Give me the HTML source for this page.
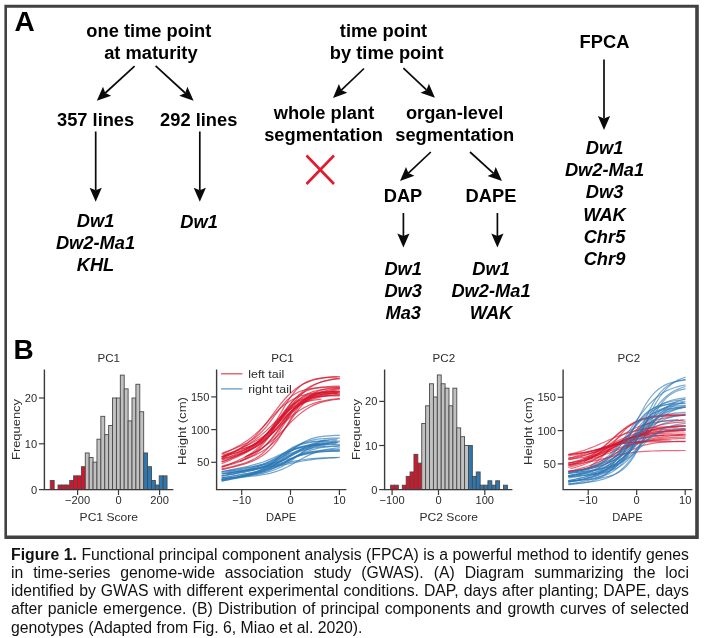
<!DOCTYPE html>
<html><head><meta charset="utf-8"><title>Figure 1</title>
<style>
html,body{margin:0;padding:0;background:#fff;}
body{width:705px;height:638px;overflow:hidden;position:relative;font-family:"Liberation Sans",sans-serif;}
svg{position:absolute;left:0;top:0;will-change:transform;}
svg text{font-family:"Liberation Sans",sans-serif;}
.b{font-weight:bold;font-size:18.3px;fill:#000;text-anchor:middle;}
.bi{font-weight:bold;font-style:italic;font-size:18.3px;fill:#000;text-anchor:middle;}
.pl{font-weight:bold;font-size:28px;fill:#000;}
.t{font-size:11.6px;fill:#2b2b2b;text-anchor:middle;}
.tk{font-size:11.1px;fill:#2b2b2b;}
#cap{will-change:transform;position:absolute;left:10.6px;top:545.5px;width:678px;font-size:15.78px;line-height:18.15px;color:#111;}
#cap div{text-align:justify;text-align-last:justify;white-space:nowrap;height:18.15px;}
#cap div.l{text-align:left;text-align-last:left;}
#cap b{font-weight:bold;}
</style></head><body>

<svg width="705" height="638" viewBox="0 0 705 638">
<path d="M4.4 4.7 H698.8 V539 H4.4 Z M7 7.8 V535.6 H695.2 V7.8 Z" fill="#414141" fill-rule="evenodd"/>
<text x="14.6" y="30.8" class="pl" >A</text>
<text x="148.8" y="37" class="b" >one time point</text>
<text x="150.9" y="59" class="b" >at maturity</text>
<line x1="134.6" y1="66.2" x2="105.3" y2="93.0" stroke="#0a0a0a" stroke-width="1.7"/><polygon points="96.8,100.8 103.0,86.8 105.3,93.0 111.2,95.8" fill="#0a0a0a"/>
<line x1="155.6" y1="65.8" x2="185.2" y2="93.0" stroke="#0a0a0a" stroke-width="1.7"/><polygon points="193.6,100.8 179.2,95.8 185.2,93.0 187.4,86.8" fill="#0a0a0a"/>
<text x="95.6" y="125.5" class="b" >357 lines</text>
<text x="198.7" y="125.5" class="b" >292 lines</text>
<line x1="95.7" y1="131.5" x2="95.7" y2="190.3" stroke="#0a0a0a" stroke-width="1.7"/><polygon points="95.7,201.8 89.6,187.8 95.7,190.3 101.8,187.8" fill="#0a0a0a"/>
<line x1="199.8" y1="131.5" x2="199.8" y2="190.3" stroke="#0a0a0a" stroke-width="1.7"/><polygon points="199.8,201.8 193.7,187.8 199.8,190.3 205.9,187.8" fill="#0a0a0a"/>
<text x="95.5" y="227.1" class="bi" >Dw1</text>
<text x="95.5" y="249.2" class="bi" >Dw2-Ma1</text>
<text x="95.5" y="271.3" class="bi" >KHL</text>
<text x="199" y="227.6" class="bi" >Dw1</text>
<text x="383.5" y="37" class="b" >time point</text>
<text x="386.7" y="59" class="b" >by time point</text>
<line x1="364.0" y1="68.5" x2="341.3" y2="90.1" stroke="#0a0a0a" stroke-width="1.7"/><polygon points="333.0,98.0 338.9,83.9 341.3,90.1 347.3,92.8" fill="#0a0a0a"/>
<line x1="403.4" y1="68.2" x2="426.5" y2="89.9" stroke="#0a0a0a" stroke-width="1.7"/><polygon points="434.9,97.8 420.5,92.7 426.5,89.9 428.9,83.8" fill="#0a0a0a"/>
<text x="324" y="119" class="b" >whole plant</text>
<text x="323.6" y="141.2" class="b" >segmentation</text>
<text x="454.7" y="119" class="b" >organ-level</text>
<text x="454.7" y="141.2" class="b" >segmentation</text>
<path d="M306.5 155.5 L334 184 M334 155.5 L306.5 184" stroke="#e21a2c" stroke-width="2.6" fill="none"/>
<line x1="430.8" y1="152.0" x2="408.4" y2="173.1" stroke="#0a0a0a" stroke-width="1.7"/><polygon points="400.0,181.0 406.0,167.0 408.4,173.1 414.4,175.8" fill="#0a0a0a"/>
<line x1="470.0" y1="152.0" x2="493.5" y2="173.3" stroke="#0a0a0a" stroke-width="1.7"/><polygon points="502.0,181.0 487.5,176.1 493.5,173.3 495.7,167.1" fill="#0a0a0a"/>
<text x="403" y="201.5" class="b" >DAP</text>
<text x="491" y="201.5" class="b" >DAPE</text>
<line x1="403.4" y1="213.0" x2="403.4" y2="236.0" stroke="#0a0a0a" stroke-width="1.7"/><polygon points="403.4,247.5 397.3,233.5 403.4,236.0 409.5,233.5" fill="#0a0a0a"/>
<line x1="497.4" y1="213.0" x2="497.4" y2="236.0" stroke="#0a0a0a" stroke-width="1.7"/><polygon points="497.4,247.5 491.3,233.5 497.4,236.0 503.5,233.5" fill="#0a0a0a"/>
<text x="403.2" y="274.7" class="bi" >Dw1</text>
<text x="403.2" y="296.9" class="bi" >Dw3</text>
<text x="403.2" y="319.09999999999997" class="bi" >Ma3</text>
<text x="491" y="274.7" class="bi" >Dw1</text>
<text x="491" y="296.9" class="bi" >Dw2-Ma1</text>
<text x="491" y="319.09999999999997" class="bi" >WAK</text>
<text x="604.5" y="47.7" class="b" >FPCA</text>
<line x1="604.0" y1="59.5" x2="604.0" y2="118.5" stroke="#0a0a0a" stroke-width="1.7"/><polygon points="604.0,130.0 597.9,116.0 604.0,118.5 610.1,116.0" fill="#0a0a0a"/>
<text x="604.5" y="154.1" class="bi" >Dw1</text>
<text x="604.5" y="176.25" class="bi" >Dw2-Ma1</text>
<text x="604.5" y="198.39999999999998" class="bi" >Dw3</text>
<text x="604.5" y="220.54999999999998" class="bi" >WAK</text>
<text x="604.5" y="242.7" class="bi" >Chr5</text>
<text x="604.5" y="264.85" class="bi" >Chr9</text>
<text x="13.5" y="359.2" class="pl" >B</text>
<rect x="50.25" y="480.44" width="3.89" height="9.16" fill="#d6142c" stroke="#4a4a4a" stroke-width="0.9"/><rect x="58.04" y="485.02" width="3.89" height="4.58" fill="#d6142c" stroke="#4a4a4a" stroke-width="0.9"/><rect x="61.93" y="485.02" width="3.89" height="4.58" fill="#d6142c" stroke="#4a4a4a" stroke-width="0.9"/><rect x="65.82" y="485.02" width="3.89" height="4.58" fill="#d6142c" stroke="#4a4a4a" stroke-width="0.9"/><rect x="69.72" y="480.44" width="3.89" height="9.16" fill="#d6142c" stroke="#4a4a4a" stroke-width="0.9"/><rect x="73.61" y="475.86" width="3.89" height="13.74" fill="#d6142c" stroke="#4a4a4a" stroke-width="0.9"/><rect x="77.50" y="475.86" width="3.89" height="13.74" fill="#d6142c" stroke="#4a4a4a" stroke-width="0.9"/><rect x="81.39" y="466.70" width="3.89" height="22.90" fill="#d6142c" stroke="#4a4a4a" stroke-width="0.9"/><rect x="85.29" y="452.96" width="3.89" height="36.64" fill="#c1c1c1" stroke="#4a4a4a" stroke-width="0.9"/><rect x="89.18" y="457.54" width="3.89" height="32.06" fill="#c1c1c1" stroke="#4a4a4a" stroke-width="0.9"/><rect x="93.07" y="462.12" width="3.89" height="27.48" fill="#c1c1c1" stroke="#4a4a4a" stroke-width="0.9"/><rect x="96.97" y="439.22" width="3.89" height="50.38" fill="#c1c1c1" stroke="#4a4a4a" stroke-width="0.9"/><rect x="100.86" y="416.32" width="3.89" height="73.28" fill="#c1c1c1" stroke="#4a4a4a" stroke-width="0.9"/><rect x="104.75" y="434.64" width="3.89" height="54.96" fill="#c1c1c1" stroke="#4a4a4a" stroke-width="0.9"/><rect x="108.64" y="425.48" width="3.89" height="64.12" fill="#c1c1c1" stroke="#4a4a4a" stroke-width="0.9"/><rect x="112.54" y="398.00" width="3.89" height="91.60" fill="#c1c1c1" stroke="#4a4a4a" stroke-width="0.9"/><rect x="116.43" y="398.00" width="3.89" height="91.60" fill="#c1c1c1" stroke="#4a4a4a" stroke-width="0.9"/><rect x="120.32" y="375.10" width="3.89" height="114.50" fill="#c1c1c1" stroke="#4a4a4a" stroke-width="0.9"/><rect x="124.22" y="388.84" width="3.89" height="100.76" fill="#c1c1c1" stroke="#4a4a4a" stroke-width="0.9"/><rect x="128.11" y="420.90" width="3.89" height="68.70" fill="#c1c1c1" stroke="#4a4a4a" stroke-width="0.9"/><rect x="132.00" y="398.00" width="3.89" height="91.60" fill="#c1c1c1" stroke="#4a4a4a" stroke-width="0.9"/><rect x="135.90" y="384.26" width="3.89" height="105.34" fill="#c1c1c1" stroke="#4a4a4a" stroke-width="0.9"/><rect x="139.79" y="411.74" width="3.89" height="77.86" fill="#c1c1c1" stroke="#4a4a4a" stroke-width="0.9"/><rect x="143.68" y="452.96" width="3.89" height="36.64" fill="#2b78b4" stroke="#4a4a4a" stroke-width="0.9"/><rect x="147.57" y="466.70" width="3.89" height="22.90" fill="#2b78b4" stroke="#4a4a4a" stroke-width="0.9"/><rect x="151.47" y="480.44" width="3.89" height="9.16" fill="#2b78b4" stroke="#4a4a4a" stroke-width="0.9"/><rect x="155.36" y="485.02" width="3.89" height="4.58" fill="#2b78b4" stroke="#4a4a4a" stroke-width="0.9"/><rect x="159.25" y="475.86" width="3.89" height="13.74" fill="#2b78b4" stroke="#4a4a4a" stroke-width="0.9"/><rect x="163.15" y="475.86" width="3.89" height="13.74" fill="#2b78b4" stroke="#4a4a4a" stroke-width="0.9"/><path d="M44.4 369.6 V489.6 H173.4" stroke="#3a3a3a" stroke-width="1.4" fill="none"/><line x1="39.0" x2="44.4" y1="489.6" y2="489.6" stroke="#3a3a3a" stroke-width="1.2"/><text x="37.199999999999996" y="493.6" class="tk" text-anchor="end">0</text><line x1="39.0" x2="44.4" y1="443.8" y2="443.8" stroke="#3a3a3a" stroke-width="1.2"/><text x="37.199999999999996" y="447.8" class="tk" text-anchor="end">10</text><line x1="39.0" x2="44.4" y1="398.0" y2="398.0" stroke="#3a3a3a" stroke-width="1.2"/><text x="37.199999999999996" y="402.0" class="tk" text-anchor="end">20</text><line x1="77.6" x2="77.6" y1="489.6" y2="495.0" stroke="#3a3a3a" stroke-width="1.2"/><text x="77.6" y="504.40000000000003" class="tk" text-anchor="middle">−200</text><line x1="118.5" x2="118.5" y1="489.6" y2="495.0" stroke="#3a3a3a" stroke-width="1.2"/><text x="118.5" y="504.40000000000003" class="tk" text-anchor="middle">0</text><line x1="159.6" x2="159.6" y1="489.6" y2="495.0" stroke="#3a3a3a" stroke-width="1.2"/><text x="159.6" y="504.40000000000003" class="tk" text-anchor="middle">200</text><text x="108.8" y="361.9" class="t" >PC1</text><text x="108.8" y="521.4" class="t" textLength="58.4" lengthAdjust="spacingAndGlyphs">PC1 Score</text><text transform="translate(20.3,429.5) rotate(-90)" class="t" textLength="61" lengthAdjust="spacingAndGlyphs">Frequency</text>
<rect x="390.60" y="485.19" width="3.89" height="4.41" fill="#d6142c" stroke="#4a4a4a" stroke-width="0.9"/><rect x="394.49" y="485.19" width="3.89" height="4.41" fill="#d6142c" stroke="#4a4a4a" stroke-width="0.9"/><rect x="402.28" y="485.19" width="3.89" height="4.41" fill="#d6142c" stroke="#4a4a4a" stroke-width="0.9"/><rect x="406.17" y="476.37" width="3.89" height="13.23" fill="#d6142c" stroke="#4a4a4a" stroke-width="0.9"/><rect x="410.06" y="471.96" width="3.89" height="17.64" fill="#d6142c" stroke="#4a4a4a" stroke-width="0.9"/><rect x="413.96" y="454.32" width="3.89" height="35.28" fill="#d6142c" stroke="#4a4a4a" stroke-width="0.9"/><rect x="417.85" y="463.14" width="3.89" height="26.46" fill="#d6142c" stroke="#4a4a4a" stroke-width="0.9"/><rect x="421.74" y="423.45" width="3.89" height="66.15" fill="#c1c1c1" stroke="#4a4a4a" stroke-width="0.9"/><rect x="425.64" y="405.81" width="3.89" height="83.79" fill="#c1c1c1" stroke="#4a4a4a" stroke-width="0.9"/><rect x="429.53" y="383.76" width="3.89" height="105.84" fill="#c1c1c1" stroke="#4a4a4a" stroke-width="0.9"/><rect x="433.42" y="396.99" width="3.89" height="92.61" fill="#c1c1c1" stroke="#4a4a4a" stroke-width="0.9"/><rect x="437.32" y="374.94" width="3.89" height="114.66" fill="#c1c1c1" stroke="#4a4a4a" stroke-width="0.9"/><rect x="441.21" y="383.76" width="3.89" height="105.84" fill="#c1c1c1" stroke="#4a4a4a" stroke-width="0.9"/><rect x="445.10" y="388.17" width="3.89" height="101.43" fill="#c1c1c1" stroke="#4a4a4a" stroke-width="0.9"/><rect x="449.00" y="405.81" width="3.89" height="83.79" fill="#c1c1c1" stroke="#4a4a4a" stroke-width="0.9"/><rect x="452.89" y="388.17" width="3.89" height="101.43" fill="#c1c1c1" stroke="#4a4a4a" stroke-width="0.9"/><rect x="456.78" y="427.86" width="3.89" height="61.74" fill="#c1c1c1" stroke="#4a4a4a" stroke-width="0.9"/><rect x="460.67" y="436.68" width="3.89" height="52.92" fill="#c1c1c1" stroke="#4a4a4a" stroke-width="0.9"/><rect x="464.57" y="445.50" width="3.89" height="44.10" fill="#c1c1c1" stroke="#4a4a4a" stroke-width="0.9"/><rect x="468.46" y="445.50" width="3.89" height="44.10" fill="#2b78b4" stroke="#4a4a4a" stroke-width="0.9"/><rect x="472.35" y="476.37" width="3.89" height="13.23" fill="#2b78b4" stroke="#4a4a4a" stroke-width="0.9"/><rect x="476.25" y="471.96" width="3.89" height="17.64" fill="#2b78b4" stroke="#4a4a4a" stroke-width="0.9"/><rect x="480.14" y="485.19" width="3.89" height="4.41" fill="#2b78b4" stroke="#4a4a4a" stroke-width="0.9"/><rect x="484.03" y="485.19" width="3.89" height="4.41" fill="#2b78b4" stroke="#4a4a4a" stroke-width="0.9"/><rect x="487.93" y="480.78" width="3.89" height="8.82" fill="#2b78b4" stroke="#4a4a4a" stroke-width="0.9"/><rect x="491.82" y="485.19" width="3.89" height="4.41" fill="#2b78b4" stroke="#4a4a4a" stroke-width="0.9"/><rect x="495.71" y="480.78" width="3.89" height="8.82" fill="#2b78b4" stroke="#4a4a4a" stroke-width="0.9"/><rect x="503.50" y="485.19" width="3.89" height="4.41" fill="#2b78b4" stroke="#4a4a4a" stroke-width="0.9"/><path d="M384.6 369.6 V489.6 H512.4" stroke="#3a3a3a" stroke-width="1.4" fill="none"/><line x1="379.20000000000005" x2="384.6" y1="489.6" y2="489.6" stroke="#3a3a3a" stroke-width="1.2"/><text x="377.40000000000003" y="493.6" class="tk" text-anchor="end">0</text><line x1="379.20000000000005" x2="384.6" y1="445.5" y2="445.5" stroke="#3a3a3a" stroke-width="1.2"/><text x="377.40000000000003" y="449.5" class="tk" text-anchor="end">10</text><line x1="379.20000000000005" x2="384.6" y1="401.4" y2="401.4" stroke="#3a3a3a" stroke-width="1.2"/><text x="377.40000000000003" y="405.4" class="tk" text-anchor="end">20</text><line x1="392.1" x2="392.1" y1="489.6" y2="495.0" stroke="#3a3a3a" stroke-width="1.2"/><text x="392.1" y="504.40000000000003" class="tk" text-anchor="middle">−100</text><line x1="438.5" x2="438.5" y1="489.6" y2="495.0" stroke="#3a3a3a" stroke-width="1.2"/><text x="438.5" y="504.40000000000003" class="tk" text-anchor="middle">0</text><line x1="484.8" x2="484.8" y1="489.6" y2="495.0" stroke="#3a3a3a" stroke-width="1.2"/><text x="484.8" y="504.40000000000003" class="tk" text-anchor="middle">100</text><text x="443.9" y="361.9" class="t" >PC2</text><text x="448.7" y="521.4" class="t" textLength="58.4" lengthAdjust="spacingAndGlyphs">PC2 Score</text><text transform="translate(360.4,429.5) rotate(-90)" class="t" textLength="61" lengthAdjust="spacingAndGlyphs">Frequency</text>
<g fill="none" stroke-width="1.2" stroke-linecap="round" stroke-linejoin="round"><polyline points="238.0,471.9 241.7,471.1 245.4,470.4 249.0,469.6 252.7,468.8 256.4,468.0 260.0,467.2 263.7,466.3 267.3,465.3 271.0,464.3 274.7,463.2 278.3,461.9 282.0,460.4 285.7,458.8 289.3,456.8 293.0,454.7 296.7,452.4 300.3,450.1 304.0,447.9 307.6,445.9 311.3,444.2 315.0,442.8 318.6,441.7 322.3,440.8 326.0,440.1 329.6,439.7 333.3,439.3 337.0,439.1" stroke="#2b78b4" stroke-opacity="0.66"/><polyline points="229.5,471.2 233.2,470.6 236.8,470.0 240.5,469.4 244.2,468.7 247.8,467.9 251.5,467.1 255.2,466.2 258.8,465.2 262.5,464.1 266.2,462.8 269.8,461.3 273.5,459.6 277.1,457.7 280.8,455.8 284.5,453.9 288.1,452.1 291.8,450.4 295.5,449.0 299.1,447.8 302.8,446.8 306.5,446.0 310.1,445.4 313.8,444.9 317.5,444.6 321.1,444.3 324.8,444.1 328.4,444.0 332.1,443.9 335.8,443.8" stroke="#2b78b4" stroke-opacity="0.66"/><polyline points="251.9,469.9 255.6,469.0 259.2,467.8 262.9,466.5 266.6,464.8 270.2,462.9 273.9,460.6 277.6,458.1 281.2,455.6 284.9,453.0 288.5,450.6 292.2,448.5 295.9,446.7 299.5,445.2 303.2,444.0 306.9,443.1 310.5,442.5 314.2,441.9 317.9,441.6 321.5,441.3 325.2,441.1 328.8,441.0 332.5,440.9 336.2,440.8" stroke="#2b78b4" stroke-opacity="0.66"/><polyline points="222.1,471.6 225.8,471.0 229.4,470.4 233.1,469.8 236.8,469.2 240.4,468.6 244.1,468.0 247.8,467.4 251.4,466.8 255.1,466.1 258.7,465.5 262.4,464.8 266.1,464.2 269.7,463.5 273.4,462.7 277.1,461.9 280.7,461.1 284.4,460.1 288.1,459.1 291.7,458.1 295.4,457.0 299.0,456.0 302.7,455.0 306.4,454.2 310.0,453.4 313.7,452.8 317.4,452.3 321.0,452.0 324.7,451.6 328.4,451.4 332.0,451.2 335.7,451.1 339.4,451.0" stroke="#2b78b4" stroke-opacity="0.66"/><polyline points="222.1,472.1 225.8,471.8 229.4,471.4 233.1,471.0 236.8,470.6 240.4,470.1 244.1,469.5 247.8,468.8 251.4,468.1 255.1,467.2 258.7,466.2 262.4,465.1 266.1,463.8 269.7,462.4 273.4,460.8 277.1,459.2 280.7,457.6 284.4,455.9 288.1,454.4 291.7,452.9 295.4,451.6 299.0,450.4 302.7,449.4 306.4,448.5 310.0,447.7 313.7,447.1 317.4,446.6 321.0,446.2 324.7,445.8" stroke="#2b78b4" stroke-opacity="0.66"/><polyline points="222.1,477.8 225.8,477.3 229.4,476.7 233.1,476.2 236.8,475.6 240.4,475.0 244.1,474.3 247.8,473.6 251.4,472.8 255.1,471.9 258.7,470.8 262.4,469.7 266.1,468.3 269.7,466.8 273.4,465.1 277.1,463.1 280.7,461.0 284.4,458.7 288.1,456.4 291.7,454.1 295.4,452.0 299.0,450.0 302.7,448.3 306.4,446.7 310.0,445.4 313.7,444.4 317.4,443.5 321.0,442.8 324.7,442.2 328.4,441.8 332.0,441.5 335.7,441.2 339.4,441.0" stroke="#2b78b4" stroke-opacity="0.66"/><polyline points="223.7,473.7 227.4,473.1 231.0,472.6 234.7,472.0 238.4,471.5 242.0,470.9 245.7,470.4 249.4,469.8 253.0,469.2 256.7,468.6 260.3,468.0 264.0,467.4 267.7,466.8 271.3,466.1 275.0,465.4 278.7,464.6 282.3,463.8 286.0,463.0 289.7,462.2 293.3,461.4 297.0,460.7 300.6,460.0 304.3,459.5 308.0,459.0 311.6,458.7 315.3,458.4 319.0,458.1 322.6,457.9 326.3,457.8 330.0,457.7 333.6,457.6 337.3,457.5" stroke="#2b78b4" stroke-opacity="0.66"/><polyline points="222.1,479.3 225.8,478.8 229.4,478.4 233.1,478.0 236.8,477.5 240.4,477.0 244.1,476.5 247.8,476.0 251.4,475.4 255.1,474.8 258.7,474.1 262.4,473.3 266.1,472.4 269.7,471.4 273.4,470.2 277.1,468.7 280.7,467.1 284.4,465.1 288.1,462.9 291.7,460.4 295.4,457.8 299.0,455.0 302.7,452.2 306.4,449.6 310.0,447.1 313.7,444.9 317.4,443.0 321.0,441.4 324.7,440.0" stroke="#2b78b4" stroke-opacity="0.66"/><polyline points="222.1,473.4 225.8,473.0 229.4,472.6 233.1,472.2 236.8,471.7 240.4,471.3 244.1,470.9 247.8,470.4 251.4,470.0 255.1,469.5 258.7,469.0 262.4,468.5 266.1,468.0 269.7,467.4 273.4,466.8 277.1,466.2 280.7,465.5 284.4,464.7 288.1,464.0 291.7,463.2 295.4,462.4 299.0,461.7 302.7,461.0 306.4,460.4 310.0,459.8 313.7,459.3 317.4,458.9 321.0,458.6 324.7,458.3 328.4,458.0 332.0,457.8 335.7,457.6 339.4,457.4" stroke="#2b78b4" stroke-opacity="0.66"/><polyline points="222.1,475.4 225.8,475.0 229.4,474.6 233.1,474.1 236.8,473.5 240.4,472.9 244.1,472.3 247.8,471.5 251.4,470.6 255.1,469.7 258.7,468.5 262.4,467.3 266.1,465.9 269.7,464.4 273.4,462.7 277.1,461.0 280.7,459.3 284.4,457.6 288.1,455.9 291.7,454.4 295.4,453.0 299.0,451.7 302.7,450.6 306.4,449.6 310.0,448.8 313.7,448.0 317.4,447.5 321.0,447.0 324.7,446.6 328.4,446.3 332.0,446.0 335.7,445.8 339.4,445.6" stroke="#2b78b4" stroke-opacity="0.66"/><polyline points="222.1,471.5 225.8,470.8 229.4,470.1 233.1,469.4 236.8,468.7 240.4,467.9 244.1,467.1 247.8,466.3 251.4,465.4 255.1,464.4 258.7,463.4 262.4,462.2 266.1,460.9 269.7,459.4 273.4,457.8 277.1,456.1 280.7,454.3 284.4,452.6 288.1,451.0 291.7,449.6 295.4,448.4 299.0,447.4 302.7,446.6 306.4,446.0 310.0,445.5 313.7,445.2 317.4,444.9 321.0,444.7" stroke="#2b78b4" stroke-opacity="0.66"/><polyline points="222.1,480.9 225.8,480.1 229.4,479.3 233.1,478.4 236.8,477.6 240.4,476.7 244.1,475.7 247.8,474.7 251.4,473.5 255.1,472.2 258.7,470.7 262.4,468.9 266.1,466.8 269.7,464.4 273.4,461.7 277.1,458.8 280.7,455.8 284.4,452.9 288.1,450.2 291.7,447.9 295.4,446.0 299.0,444.5 302.7,443.4 306.4,442.5 310.0,441.8 313.7,441.4 317.4,441.0 321.0,440.8 324.7,440.6 328.4,440.5" stroke="#2b78b4" stroke-opacity="0.66"/><polyline points="222.1,479.8 225.8,479.1 229.4,478.4 233.1,477.7 236.8,477.0 240.4,476.2 244.1,475.5 247.8,474.8 251.4,474.0 255.1,473.2 258.7,472.3 262.4,471.4 266.1,470.3 269.7,469.1 273.4,467.7 277.1,466.1 280.7,464.3 284.4,462.3 288.1,460.2 291.7,458.2 295.4,456.3 299.0,454.8 302.7,453.6 306.4,452.7 310.0,452.1 313.7,451.6 317.4,451.3 321.0,451.0 324.7,450.9 328.4,450.8 332.0,450.7 335.7,450.7 339.4,450.6" stroke="#2b78b4" stroke-opacity="0.66"/><polyline points="222.1,476.4 225.8,475.6 229.4,474.7 233.1,473.9 236.8,473.0 240.4,472.0 244.1,471.0 247.8,469.9 251.4,468.8 255.1,467.5 258.7,466.2 262.4,464.6 266.1,463.0 269.7,461.2 273.4,459.2 277.1,457.3 280.7,455.3 284.4,453.5 288.1,451.9 291.7,450.5 295.4,449.2 299.0,448.2 302.7,447.3 306.4,446.6 310.0,446.1 313.7,445.6 317.4,445.3 321.0,445.0 324.7,444.8 328.4,444.7 332.0,444.6 335.7,444.5 339.4,444.4" stroke="#2b78b4" stroke-opacity="0.66"/><polyline points="222.1,480.3 225.8,479.7 229.4,479.0 233.1,478.3 236.8,477.6 240.4,476.9 244.1,476.1 247.8,475.4 251.4,474.6 255.1,473.7 258.7,472.8 262.4,471.9 266.1,470.8 269.7,469.6 273.4,468.3 277.1,466.8 280.7,465.2 284.4,463.3 288.1,461.2 291.7,459.0 295.4,456.7 299.0,454.5 302.7,452.3 306.4,450.3 310.0,448.6 313.7,447.0 317.4,445.7 321.0,444.7 324.7,443.8 328.4,443.1 332.0,442.5 335.7,442.1 339.4,441.8" stroke="#2b78b4" stroke-opacity="0.66"/><polyline points="222.1,477.7 225.8,477.1 229.4,476.5 233.1,475.8 236.8,475.2 240.4,474.6 244.1,473.9 247.8,473.3 251.4,472.6 255.1,471.8 258.7,471.0 262.4,470.2 266.1,469.2 269.7,468.1 273.4,466.9 277.1,465.4 280.7,463.8 284.4,462.1 288.1,460.3 291.7,458.5 295.4,456.9 299.0,455.6 302.7,454.4 306.4,453.5 310.0,452.8 313.7,452.3 317.4,451.9 321.0,451.6 324.7,451.4 328.4,451.3 332.0,451.2 335.7,451.1 339.4,451.0" stroke="#2b78b4" stroke-opacity="0.66"/><polyline points="222.1,481.1 225.8,480.4 229.4,479.7 233.1,479.0 236.8,478.3 240.4,477.6 244.1,476.8 247.8,476.0 251.4,475.2 255.1,474.3 258.7,473.4 262.4,472.4 266.1,471.3 269.7,470.0 273.4,468.6 277.1,467.0 280.7,465.2 284.4,463.2 288.1,461.2 291.7,459.0 295.4,456.9 299.0,455.0 302.7,453.2 306.4,451.7 310.0,450.4 313.7,449.3 317.4,448.4 321.0,447.7 324.7,447.2 328.4,446.8 332.0,446.5 335.7,446.3 339.4,446.1" stroke="#2b78b4" stroke-opacity="0.66"/><polyline points="222.1,474.0 225.8,473.4 229.4,472.8 233.1,472.2 236.8,471.6 240.4,471.0 244.1,470.4 247.8,469.8 251.4,469.1 255.1,468.5 258.7,467.8 262.4,467.2 266.1,466.4 269.7,465.7 273.4,464.8 277.1,463.9 280.7,462.9 284.4,461.7 288.1,460.3 291.7,458.9 295.4,457.3 299.0,455.8 302.7,454.4 306.4,453.2 310.0,452.2 313.7,451.4 317.4,450.8 321.0,450.3 324.7,450.0 328.4,449.8 332.0,449.6 335.7,449.5 339.4,449.4" stroke="#2b78b4" stroke-opacity="0.66"/><polyline points="222.1,479.6 225.8,478.9 229.4,478.3 233.1,477.6 236.8,477.0 240.4,476.3 244.1,475.5 247.8,474.7 251.4,473.9 255.1,473.0 258.7,471.9 262.4,470.7 266.1,469.2 269.7,467.5 273.4,465.4 277.1,463.0 280.7,460.2 284.4,457.1 288.1,453.9 291.7,450.6 295.4,447.6 299.0,444.9 302.7,442.6 306.4,440.7 310.0,439.2 313.7,438.1 317.4,437.2 321.0,436.6 324.7,436.1 328.4,435.8 332.0,435.6 335.7,435.4 339.4,435.3" stroke="#2b78b4" stroke-opacity="0.66"/><polyline points="227.6,473.8 231.2,473.2 234.9,472.5 238.6,471.9 242.2,471.2 245.9,470.6 249.6,469.9 253.2,469.2 256.9,468.4 260.6,467.6 264.2,466.8 267.9,465.8 271.5,464.7 275.2,463.5 278.9,462.1 282.5,460.6 286.2,458.8 289.9,456.8 293.5,454.8 297.2,452.7 300.9,450.8 304.5,449.0 308.2,447.5 311.8,446.2 315.5,445.2 319.2,444.4 322.8,443.8 326.5,443.4 330.2,443.1 333.8,442.8 337.5,442.6" stroke="#2b78b4" stroke-opacity="0.66"/><polyline points="226.7,478.4 230.3,477.9 234.0,477.4 237.7,476.8 241.3,476.2 245.0,475.5 248.7,474.6 252.3,473.6 256.0,472.3 259.6,470.8 263.3,469.0 267.0,467.0 270.6,464.7 274.3,462.1 278.0,459.5 281.6,456.9 285.3,454.4 289.0,452.1 292.6,450.1 296.3,448.4 300.0,447.1 303.6,446.0 307.3,445.1 310.9,444.4 314.6,443.9 318.3,443.5 321.9,443.3 325.6,443.0 329.3,442.9 332.9,442.8 336.6,442.7" stroke="#2b78b4" stroke-opacity="0.66"/><polyline points="222.1,479.3 225.8,478.7 229.4,478.2 233.1,477.6 236.8,477.0 240.4,476.3 244.1,475.7 247.8,474.9 251.4,474.1 255.1,473.3 258.7,472.3 262.4,471.1 266.1,469.7 269.7,468.1 273.4,466.3 277.1,464.2 280.7,461.8 284.4,459.3 288.1,456.8 291.7,454.4 295.4,452.3 299.0,450.4 302.7,448.8 306.4,447.5 310.0,446.5 313.7,445.8 317.4,445.2 321.0,444.8 324.7,444.5 328.4,444.2" stroke="#2b78b4" stroke-opacity="0.66"/><polyline points="222.1,478.5 225.8,478.2 229.4,478.0 233.1,477.7 236.8,477.5 240.4,477.2 244.1,476.9 247.8,476.6 251.4,476.2 255.1,475.8 258.7,475.3 262.4,474.7 266.1,474.1 269.7,473.3 273.4,472.3 277.1,471.2 280.7,469.9 284.4,468.3 288.1,466.5 291.7,464.6 295.4,462.5 299.0,460.4 302.7,458.3 306.4,456.4 310.0,454.6 313.7,453.1 317.4,451.8 321.0,450.7 324.7,449.8 328.4,449.1 332.0,448.6 335.7,448.2 339.4,447.8" stroke="#2b78b4" stroke-opacity="0.66"/><polyline points="222.1,475.5 225.8,475.0 229.4,474.4 233.1,473.8 236.8,473.1 240.4,472.5 244.1,471.8 247.8,471.1 251.4,470.4 255.1,469.6 258.7,468.6 262.4,467.5 266.1,466.2 269.7,464.7 273.4,462.8 277.1,460.6 280.7,458.1 284.4,455.3 288.1,452.4 291.7,449.6 295.4,447.1 299.0,444.9 302.7,443.1 306.4,441.7 310.0,440.6 313.7,439.8 317.4,439.2 321.0,438.8 324.7,438.6 328.4,438.4 332.0,438.2 335.7,438.1 339.4,438.1" stroke="#2b78b4" stroke-opacity="0.66"/><polyline points="241.5,449.0 245.1,447.9 248.8,446.6 252.4,445.0 256.1,443.0 259.8,440.5 263.4,437.4 267.1,433.5 270.8,428.9 274.4,423.5 278.1,417.5 281.8,411.2 285.4,404.9 289.1,399.1 292.8,394.0 296.4,389.7 300.1,386.3 303.7,383.6 307.4,381.6 311.1,380.2 314.7,379.1 318.4,378.3 322.1,377.8 325.7,377.4 329.4,377.1 333.1,376.9 336.7,376.8" stroke="#d6142c" stroke-opacity="0.68"/><polyline points="222.1,458.9 225.8,457.8 229.4,456.6 233.1,455.3 236.8,453.9 240.4,452.4 244.1,450.6 247.8,448.7 251.4,446.5 255.1,444.0 258.7,441.2 262.4,437.9 266.1,434.2 269.7,430.1 273.4,425.7 277.1,420.9 280.7,416.1 284.4,411.2 288.1,406.6 291.7,402.2 295.4,398.2 299.0,394.7 302.7,391.5 306.4,388.9 310.0,386.6 313.7,384.8 317.4,383.3 321.0,382.0 324.7,381.1 328.4,380.3 332.0,379.7 335.7,379.2 339.4,378.8" stroke="#d6142c" stroke-opacity="0.68"/><polyline points="222.1,460.0 225.8,459.0 229.4,457.9 233.1,456.8 236.8,455.6 240.4,454.3 244.1,452.9 247.8,451.3 251.4,449.5 255.1,447.5 258.7,445.1 262.4,442.4 266.1,439.4 269.7,435.9 273.4,432.0 277.1,427.7 280.7,423.2 284.4,418.7 288.1,414.3 291.7,410.2 295.4,406.5 299.0,403.2 302.7,400.4 306.4,398.0 310.0,396.1 313.7,394.6 317.4,393.3 321.0,392.4 324.7,391.6 328.4,391.0 332.0,390.6 335.7,390.3 339.4,390.0" stroke="#d6142c" stroke-opacity="0.68"/><polyline points="240.3,461.4 244.0,459.5 247.6,457.3 251.3,454.9 255.0,452.2 258.6,448.9 262.3,445.2 266.0,440.8 269.6,435.8 273.3,430.2 277.0,424.3 280.6,418.2 284.3,412.4 287.9,407.1 291.6,402.5 295.3,398.6 298.9,395.4 302.6,393.0 306.3,391.0 309.9,389.6 313.6,388.6 317.3,387.8 320.9,387.2 324.6,386.8 328.3,386.5 331.9,386.3 335.6,386.2 339.2,386.1" stroke="#d6142c" stroke-opacity="0.68"/><polyline points="222.1,456.6 225.8,455.7 229.4,454.7 233.1,453.7 236.8,452.6 240.4,451.4 244.1,450.1 247.8,448.6 251.4,446.8 255.1,444.7 258.7,442.2 262.4,439.1 266.1,435.5 269.7,431.3 273.4,426.6 277.1,421.7 280.7,416.9 284.4,412.4 288.1,408.5 291.7,405.3 295.4,402.7 299.0,400.8 302.7,399.3 306.4,398.3 310.0,397.5 313.7,397.0 317.4,396.6 321.0,396.3 324.7,396.2 328.4,396.0 332.0,396.0 335.7,395.9 339.4,395.8" stroke="#d6142c" stroke-opacity="0.68"/><polyline points="222.1,457.1 225.8,456.1 229.4,455.0 233.1,453.8 236.8,452.6 240.4,451.2 244.1,449.7 247.8,448.1 251.4,446.1 255.1,443.9 258.7,441.4 262.4,438.4 266.1,435.0 269.7,431.2 273.4,427.1 277.1,422.7 280.7,418.2 284.4,413.9 288.1,409.9 291.7,406.4 295.4,403.3 299.0,400.7 302.7,398.5 306.4,396.8 310.0,395.5 313.7,394.4 317.4,393.6 321.0,393.0 324.7,392.6 328.4,392.2 332.0,392.0 335.7,391.8 339.4,391.6" stroke="#d6142c" stroke-opacity="0.68"/><polyline points="222.1,457.1 225.8,455.5 229.4,453.9 233.1,452.2 236.8,450.4 240.4,448.6 244.1,446.6 247.8,444.6 251.4,442.3 255.1,439.8 258.7,437.1 262.4,434.1 266.1,430.9 269.7,427.4 273.4,423.8 277.1,420.1 280.7,416.7 284.4,413.5 288.1,410.7 291.7,408.2 295.4,406.1 299.0,404.4 302.7,402.9 306.4,401.8 310.0,400.9 313.7,400.2 317.4,399.6 321.0,399.2" stroke="#d6142c" stroke-opacity="0.68"/><polyline points="222.1,463.5 225.8,461.9 229.4,460.4 233.1,458.7 236.8,457.1 240.4,455.4 244.1,453.6 247.8,451.6 251.4,449.6 255.1,447.4 258.7,445.0 262.4,442.3 266.1,439.3 269.7,436.0 273.4,432.3 277.1,428.3 280.7,424.1 284.4,419.8 288.1,415.5 291.7,411.6 295.4,408.1 299.0,404.9 302.7,402.3 306.4,400.0 310.0,398.2 313.7,396.7 317.4,395.5 321.0,394.6 324.7,393.9 328.4,393.4 332.0,392.9 335.7,392.6 339.4,392.4" stroke="#d6142c" stroke-opacity="0.68"/><polyline points="222.1,466.2 225.8,465.1 229.4,464.1 233.1,463.0 236.8,461.8 240.4,460.7 244.1,459.4 247.8,458.1 251.4,456.7 255.1,455.1 258.7,453.3 262.4,451.3 266.1,448.9 269.7,446.1 273.4,442.8 277.1,439.0 280.7,434.5 284.4,429.6 288.1,424.3 291.7,418.9 295.4,413.6 299.0,408.8 302.7,404.5 306.4,400.8 310.0,397.8 313.7,395.4 317.4,393.5 321.0,392.1 324.7,391.0 328.4,390.2 332.0,389.6 335.7,389.2 339.4,388.8" stroke="#d6142c" stroke-opacity="0.68"/><polyline points="222.1,461.8 225.8,460.4 229.4,459.0 233.1,457.4 236.8,455.8 240.4,454.0 244.1,452.1 247.8,450.0 251.4,447.7 255.1,445.1 258.7,442.3 262.4,439.2 266.1,435.9 269.7,432.2 273.4,428.4 277.1,424.6 280.7,420.7 284.4,417.1 288.1,413.8 291.7,410.7 295.4,407.9 299.0,405.5 302.7,403.4 306.4,401.6 310.0,400.1 313.7,398.8 317.4,397.8 321.0,396.9 324.7,396.2 328.4,395.7 332.0,395.3 335.7,394.9 339.4,394.6" stroke="#d6142c" stroke-opacity="0.68"/><polyline points="222.1,456.5 225.8,454.9 229.4,453.4 233.1,451.7 236.8,450.1 240.4,448.5 244.1,446.8 247.8,445.0 251.4,443.2 255.1,441.3 258.7,439.3 262.4,437.0 266.1,434.5 269.7,431.6 273.4,428.4 277.1,424.6 280.7,420.5 284.4,416.0 288.1,411.4 291.7,407.0 295.4,403.0 299.0,399.5 302.7,396.7 306.4,394.4 310.0,392.7 313.7,391.4 317.4,390.5 321.0,389.8 324.7,389.3 328.4,389.0 332.0,388.8 335.7,388.6 339.4,388.5" stroke="#d6142c" stroke-opacity="0.68"/><polyline points="222.1,458.4 225.8,456.6 229.4,454.7 233.1,452.7 236.8,450.6 240.4,448.3 244.1,445.7 247.8,442.9 251.4,439.8 255.1,436.3 258.7,432.4 262.4,428.1 266.1,423.5 269.7,418.6 273.4,413.5 277.1,408.6 280.7,403.8 284.4,399.5 288.1,395.5 291.7,392.1 295.4,389.0 299.0,386.5 302.7,384.3 306.4,382.6 310.0,381.1 313.7,380.0 317.4,379.1 321.0,378.4 324.7,377.8 328.4,377.4 332.0,377.1 335.7,376.8 339.4,376.6" stroke="#d6142c" stroke-opacity="0.68"/><polyline points="222.1,458.9 225.8,457.9 229.4,457.0 233.1,455.9 236.8,454.7 240.4,453.4 244.1,452.0 247.8,450.4 251.4,448.6 255.1,446.6 258.7,444.3 262.4,441.7 266.1,438.9 269.7,435.8 273.4,432.5 277.1,429.1 280.7,425.6 284.4,422.2 288.1,419.0 291.7,416.0 295.4,413.2 299.0,410.7 302.7,408.4 306.4,406.5 310.0,404.8 313.7,403.4 317.4,402.2 321.0,401.3 324.7,400.5 328.4,399.8 332.0,399.3 335.7,398.9 339.4,398.5" stroke="#d6142c" stroke-opacity="0.68"/><polyline points="246.0,456.3 249.6,454.9 253.3,453.3 256.9,451.4 260.6,449.2 264.3,446.5 267.9,443.3 271.6,439.4 275.3,434.9 278.9,429.8 282.6,424.4 286.3,418.9 289.9,413.7 293.6,409.1 297.2,405.1 300.9,401.9 304.6,399.5 308.2,397.6 311.9,396.2 315.6,395.2 319.2,394.4 322.9,393.9 326.6,393.6 330.2,393.3 333.9,393.1 337.5,393.0" stroke="#d6142c" stroke-opacity="0.68"/><polyline points="222.1,461.6 225.8,460.3 229.4,459.0 233.1,457.5 236.8,456.0 240.4,454.4 244.1,452.7 247.8,450.8 251.4,448.7 255.1,446.3 258.7,443.7 262.4,440.7 266.1,437.3 269.7,433.4 273.4,429.2 277.1,424.6 280.7,419.7 284.4,414.7 288.1,409.8 291.7,405.1 295.4,400.7 299.0,396.7 302.7,393.2 306.4,390.1 310.0,387.5 313.7,385.3 317.4,383.5 321.0,382.1 324.7,380.9 328.4,380.0 332.0,379.2 335.7,378.7 339.4,378.2" stroke="#d6142c" stroke-opacity="0.68"/><polyline points="245.0,457.2 248.6,455.1 252.3,452.5 255.9,449.6 259.6,446.2 263.3,442.3 266.9,437.8 270.6,432.8 274.3,427.5 277.9,422.1 281.6,416.8 285.3,412.0 288.9,407.7 292.6,404.1 296.2,401.1 299.9,398.7 303.6,396.8 307.2,395.4 310.9,394.4 314.6,393.6 318.2,393.0 321.9,392.6 325.6,392.3 329.2,392.0 332.9,391.9 336.5,391.8" stroke="#d6142c" stroke-opacity="0.68"/><polyline points="246.9,448.6 250.6,446.4 254.2,444.1 257.9,441.5 261.6,438.7 265.2,435.5 268.9,432.0 272.5,428.3 276.2,424.3 279.9,420.2 283.5,416.1 287.2,412.3 290.9,408.8 294.5,405.6 298.2,402.8 301.9,400.4 305.5,398.4 309.2,396.7 312.8,395.3 316.5,394.2 320.2,393.3 323.8,392.6 327.5,392.0 331.2,391.6 334.8,391.3" stroke="#d6142c" stroke-opacity="0.68"/><polyline points="222.1,453.3 225.8,451.9 229.4,450.6 233.1,449.2 236.8,447.7 240.4,446.1 244.1,444.4 247.8,442.5 251.4,440.3 255.1,437.7 258.7,434.7 262.4,431.2 266.1,427.1 269.7,422.4 273.4,417.4 277.1,412.3 280.7,407.4 284.4,403.0 288.1,399.2 291.7,396.1 295.4,393.7 299.0,391.8 302.7,390.5 306.4,389.5 310.0,388.8 313.7,388.2 317.4,387.9 321.0,387.6 324.7,387.5 328.4,387.4 332.0,387.3 335.7,387.2 339.4,387.2" stroke="#d6142c" stroke-opacity="0.68"/><polyline points="222.1,466.9 225.8,466.0 229.4,465.0 233.1,463.9 236.8,462.7 240.4,461.4 244.1,460.0 247.8,458.3 251.4,456.3 255.1,454.0 258.7,451.3 262.4,448.2 266.1,444.6 269.7,440.6 273.4,436.1 277.1,431.4 280.7,426.5 284.4,421.7 288.1,417.2 291.7,413.0 295.4,409.2 299.0,406.0 302.7,403.2 306.4,400.9 310.0,399.1 313.7,397.6 317.4,396.5 321.0,395.5 324.7,394.8 328.4,394.3 332.0,393.9 335.7,393.6 339.4,393.3" stroke="#d6142c" stroke-opacity="0.68"/><polyline points="223.2,455.0 226.9,453.9 230.6,452.9 234.2,451.8 237.9,450.7 241.6,449.5 245.2,448.2 248.9,446.9 252.6,445.4 256.2,443.7 259.9,441.7 263.5,439.5 267.2,436.9 270.9,433.8 274.5,430.3 278.2,426.3 281.9,422.1 285.5,417.7 289.2,413.4 292.9,409.5 296.5,406.0 300.2,403.0 303.8,400.6 307.5,398.6 311.2,397.1 314.8,396.0 318.5,395.1 322.2,394.5 325.8,394.0 329.5,393.7 333.2,393.4 336.8,393.2" stroke="#d6142c" stroke-opacity="0.68"/><polyline points="222.1,454.1 225.8,452.4 229.4,450.7 233.1,448.9 236.8,446.9 240.4,444.9 244.1,442.6 247.8,440.2 251.4,437.4 255.1,434.4 258.7,431.1 262.4,427.4 266.1,423.5 269.7,419.4 273.4,415.4 277.1,411.5 280.7,408.0 284.4,404.9 288.1,402.2 291.7,400.0 295.4,398.1 299.0,396.5 302.7,395.3 306.4,394.3 310.0,393.6 313.7,393.0 317.4,392.6 321.0,392.2 324.7,392.0 328.4,391.8 332.0,391.7 335.7,391.6 339.4,391.5" stroke="#d6142c" stroke-opacity="0.68"/><polyline points="222.1,468.9 225.8,468.1 229.4,467.3 233.1,466.4 236.8,465.4 240.4,464.4 244.1,463.3 247.8,461.9 251.4,460.4 255.1,458.5 258.7,456.3 262.4,453.5 266.1,450.1 269.7,445.9 273.4,441.1 277.1,435.7 280.7,429.8 284.4,423.9 288.1,418.3 291.7,413.2 295.4,408.9 299.0,405.4 302.7,402.6 306.4,400.4 310.0,398.9 313.7,397.7 317.4,396.8 321.0,396.2 324.7,395.8 328.4,395.5 332.0,395.3 335.7,395.1 339.4,395.0" stroke="#d6142c" stroke-opacity="0.68"/><polyline points="222.1,467.3 225.8,465.8 229.4,464.2 233.1,462.6 236.8,461.0 240.4,459.3 244.1,457.6 247.8,455.8 251.4,453.9 255.1,452.0 258.7,449.9 262.4,447.6 266.1,445.1 269.7,442.4 273.4,439.5 277.1,436.2 280.7,432.7 284.4,429.0 288.1,425.2 291.7,421.4 295.4,417.9 299.0,414.6 302.7,411.7 306.4,409.2 310.0,407.0 313.7,405.1 317.4,403.6 321.0,402.4 324.7,401.4 328.4,400.6 332.0,400.0 335.7,399.5 339.4,399.1" stroke="#d6142c" stroke-opacity="0.68"/><polyline points="222.1,469.6 225.8,468.8 229.4,468.0 233.1,467.1 236.8,466.2 240.4,465.2 244.1,464.1 247.8,462.9 251.4,461.6 255.1,460.0 258.7,458.1 262.4,455.8 266.1,453.0 269.7,449.6 273.4,445.6 277.1,440.8 280.7,435.4 284.4,429.4 288.1,423.2 291.7,417.1 295.4,411.4 299.0,406.3 302.7,401.9 306.4,398.3 310.0,395.4 313.7,393.1 317.4,391.4 321.0,390.1 324.7,389.2 328.4,388.5 332.0,388.0 335.7,387.6 339.4,387.4" stroke="#d6142c" stroke-opacity="0.68"/></g><path d="M216.6 369.6 V489.6 H346.4" stroke="#3a3a3a" stroke-width="1.4" fill="none"/><line x1="211.2" x2="216.6" y1="462.3" y2="462.3" stroke="#3a3a3a" stroke-width="1.2"/><text x="209.4" y="466.3" class="tk" text-anchor="end">50</text><line x1="211.2" x2="216.6" y1="429.6" y2="429.6" stroke="#3a3a3a" stroke-width="1.2"/><text x="209.4" y="433.6" class="tk" text-anchor="end">100</text><line x1="211.2" x2="216.6" y1="396.9" y2="396.9" stroke="#3a3a3a" stroke-width="1.2"/><text x="209.4" y="400.9" class="tk" text-anchor="end">150</text><line x1="241.7" x2="241.7" y1="489.6" y2="495.0" stroke="#3a3a3a" stroke-width="1.2"/><text x="241.7" y="504.40000000000003" class="tk" text-anchor="middle">−10</text><line x1="290.5" x2="290.5" y1="489.6" y2="495.0" stroke="#3a3a3a" stroke-width="1.2"/><text x="290.5" y="504.40000000000003" class="tk" text-anchor="middle">0</text><line x1="339.4" x2="339.4" y1="489.6" y2="495.0" stroke="#3a3a3a" stroke-width="1.2"/><text x="339.4" y="504.40000000000003" class="tk" text-anchor="middle">10</text><text x="282.5" y="361.9" class="t" >PC1</text><text x="281.1" y="521.4" class="t" textLength="30.4" lengthAdjust="spacingAndGlyphs">DAPE</text><text transform="translate(186,431) rotate(-90)" class="t" textLength="68" lengthAdjust="spacingAndGlyphs">Height (cm)</text><line x1="221" x2="242.4" y1="373.8" y2="373.8" stroke="#d6142c" stroke-width="1.2" stroke-opacity="0.8"/><line x1="221" x2="242.4" y1="388.9" y2="388.9" stroke="#2b78b4" stroke-width="1.2" stroke-opacity="0.8"/><text x="248.2" y="378.1" class="tk" textLength="36" lengthAdjust="spacingAndGlyphs">left tail</text><text x="248.2" y="393.3" class="tk" textLength="43.5" lengthAdjust="spacingAndGlyphs">right tail</text>
<g fill="none" stroke-width="1.2" stroke-linecap="round" stroke-linejoin="round"><polyline points="568.8,463.2 572.4,462.3 576.1,461.2 579.7,460.1 583.4,458.7 587.0,457.1 590.6,455.3 594.3,453.2 597.9,450.8 601.5,448.1 605.2,445.2 608.8,442.1 612.5,438.9 616.1,435.8 619.7,432.8 623.4,430.0 627.0,427.5 630.6,425.2 634.3,423.3 637.9,421.7 641.6,420.3 645.2,419.2 648.8,418.3 652.5,417.6 656.1,417.0 659.7,416.5 663.4,416.2 667.0,415.9 670.7,415.7 674.3,415.5 677.9,415.4 681.6,415.3 685.2,415.2" stroke="#d6142c" stroke-opacity="0.62"/><polyline points="568.8,484.7 572.4,484.3 576.1,483.9 579.7,483.4 583.4,482.8 587.0,482.1 590.6,481.3 594.3,480.2 597.9,478.9 601.5,477.1 605.2,474.9 608.8,472.0 612.5,468.4 616.1,464.0 619.7,458.7 623.4,452.8 627.0,446.4 630.6,440.0 634.3,433.8 637.9,428.2 641.6,423.4 645.2,419.4 648.8,416.2 652.5,413.8 656.1,412.0 659.7,410.6 663.4,409.6 667.0,408.9 670.7,408.4 674.3,408.0 677.9,407.7 681.6,407.6 685.2,407.4" stroke="#2b78b4" stroke-opacity="0.62"/><polyline points="568.8,471.1 572.4,470.8 576.1,470.5 579.7,470.1 583.4,469.6 587.0,469.1 590.6,468.4 594.3,467.6 597.9,466.7 601.5,465.5 605.2,464.2 608.8,462.6 612.5,460.8 616.1,458.8 619.7,456.7 623.4,454.6 627.0,452.5 630.6,450.6 634.3,448.9 637.9,447.3 641.6,446.0 645.2,444.9 648.8,444.1 652.5,443.4 656.1,442.8 659.7,442.4 663.4,442.1 667.0,441.8 670.7,441.7 674.3,441.5 677.9,441.4 681.6,441.3 685.2,441.3" stroke="#d6142c" stroke-opacity="0.62"/><polyline points="568.8,476.7 572.4,476.4 576.1,476.1 579.7,475.8 583.4,475.5 587.0,475.1 590.6,474.7 594.3,474.2 597.9,473.6 601.5,473.0 605.2,472.2 608.8,471.2 612.5,469.9 616.1,468.4 619.7,466.4 623.4,463.9 627.0,460.8 630.6,457.0 634.3,452.5 637.9,447.3 641.6,441.6 645.2,435.6 648.8,429.7 652.5,424.0 656.1,418.9 659.7,414.4 663.4,410.7 667.0,407.7 670.7,405.3 674.3,403.5" stroke="#2b78b4" stroke-opacity="0.62"/><polyline points="584.6,461.2 588.2,459.6 591.8,457.8 595.5,455.9 599.1,454.0 602.7,452.0 606.4,450.1 610.0,448.2 613.7,446.5 617.3,444.8 620.9,443.3 624.6,442.0 628.2,440.8 631.8,439.7 635.5,438.8 639.1,438.0 642.8,437.4 646.4,436.8 650.0,436.3 653.7,436.0 657.3,435.7 660.9,435.4 664.6,435.2 668.2,435.0 671.9,434.9 675.5,434.8 679.1,434.7 682.8,434.6" stroke="#d6142c" stroke-opacity="0.62"/><polyline points="568.8,475.5 572.4,475.0 576.1,474.5 579.7,473.9 583.4,473.3 587.0,472.6 590.6,471.8 594.3,471.0 597.9,469.9 601.5,468.7 605.2,467.3 608.8,465.5 612.5,463.3 616.1,460.6 619.7,457.4 623.4,453.7 627.0,449.4 630.6,444.8 634.3,440.1 637.9,435.4 641.6,431.0 645.2,427.1 648.8,423.7 652.5,420.9 656.1,418.7 659.7,416.9 663.4,415.6 667.0,414.6 670.7,413.8 674.3,413.2 677.9,412.8 681.6,412.5 685.2,412.3" stroke="#2b78b4" stroke-opacity="0.62"/><polyline points="568.8,462.6 572.4,462.1 576.1,461.5 579.7,460.8 583.4,460.0 587.0,459.1 590.6,458.0 594.3,456.8 597.9,455.4 601.5,453.8 605.2,452.0 608.8,450.1 612.5,448.0 616.1,445.8 619.7,443.7 623.4,441.6 627.0,439.6 630.6,437.8 634.3,436.2 637.9,434.8 641.6,433.5 645.2,432.5 648.8,431.7 652.5,431.0 656.1,430.4 659.7,429.9 663.4,429.6 667.0,429.3 670.7,429.1 674.3,428.9 677.9,428.8 681.6,428.6 685.2,428.6" stroke="#d6142c" stroke-opacity="0.62"/><polyline points="568.8,472.5 572.4,471.9 576.1,471.2 579.7,470.5 583.4,469.7 587.0,468.9 590.6,467.9 594.3,466.9 597.9,465.6 601.5,464.2 605.2,462.6 608.8,460.7 612.5,458.5 616.1,456.0 619.7,453.1 623.4,449.9 627.0,446.4 630.6,442.5 634.3,438.5 637.9,434.2 641.6,430.0 645.2,425.8 648.8,421.8 652.5,418.0 656.1,414.6 659.7,411.5 663.4,408.7 667.0,406.4 670.7,404.3 674.3,402.6 677.9,401.2 681.6,400.0 685.2,399.0" stroke="#2b78b4" stroke-opacity="0.62"/><polyline points="568.8,465.9 572.4,465.1 576.1,464.1 579.7,463.0 583.4,461.7 587.0,460.1 590.6,458.3 594.3,456.2 597.9,454.0 601.5,451.6 605.2,449.2 608.8,446.9 612.5,444.8 616.1,442.9 619.7,441.3 623.4,439.9 627.0,438.7 630.6,437.8 634.3,437.1 637.9,436.6 641.6,436.1 645.2,435.8 648.8,435.6 652.5,435.4 656.1,435.3 659.7,435.2 663.4,435.1 667.0,435.0 670.7,435.0 674.3,435.0 677.9,434.9 681.6,434.9 685.2,434.9" stroke="#d6142c" stroke-opacity="0.62"/><polyline points="568.8,473.4 572.4,473.0 576.1,472.7 579.7,472.3 583.4,471.9 587.0,471.5 590.6,471.0 594.3,470.4 597.9,469.7 601.5,468.8 605.2,467.8 608.8,466.5 612.5,464.9 616.1,462.9 619.7,460.5 623.4,457.6 627.0,454.3 630.6,450.6 634.3,446.6 637.9,442.6 641.6,438.6 645.2,435.0 648.8,431.8 652.5,429.1 656.1,426.8 659.7,425.0 663.4,423.6 667.0,422.5 670.7,421.7 674.3,421.0 677.9,420.6 681.6,420.2 685.2,420.0" stroke="#2b78b4" stroke-opacity="0.62"/><polyline points="590.2,465.9 593.8,463.7 597.4,461.0 601.1,457.8 604.7,454.0 608.4,449.8 612.0,445.2 615.6,440.6 619.3,436.1 622.9,432.0 626.5,428.4 630.2,425.4 633.8,423.0 637.5,421.0 641.1,419.6 644.7,418.5 648.4,417.6 652.0,417.0 655.6,416.6 659.3,416.3 662.9,416.0 666.6,415.9 670.2,415.7 673.8,415.6 677.5,415.6 681.1,415.5 684.7,415.5" stroke="#d6142c" stroke-opacity="0.62"/><polyline points="568.8,482.2 572.4,481.5 576.1,480.8 579.7,480.1 583.4,479.3 587.0,478.5 590.6,477.6 594.3,476.7 597.9,475.6 601.5,474.3 605.2,472.9 608.8,471.2 612.5,469.2 616.1,466.7 619.7,463.7 623.4,460.1 627.0,455.8 630.6,450.7 634.3,444.8 637.9,438.2 641.6,431.0 645.2,423.6 648.8,416.2 652.5,409.2 656.1,402.7 659.7,397.0 663.4,392.2 667.0,388.1 670.7,384.8 674.3,382.2 677.9,380.1 681.6,378.5 685.2,377.3" stroke="#2b78b4" stroke-opacity="0.62"/><polyline points="570.8,468.5 574.5,467.6 578.1,466.5 581.7,465.4 585.4,464.0 589.0,462.5 592.7,460.8 596.3,458.9 599.9,456.7 603.6,454.4 607.2,451.8 610.8,449.1 614.5,446.3 618.1,443.4 621.8,440.5 625.4,437.6 629.0,434.9 632.7,432.3 636.3,429.8 639.9,427.6 643.6,425.6 647.2,423.8 650.9,422.2 654.5,420.9 658.1,419.7 661.8,418.7 665.4,417.8 669.0,417.1 672.7,416.5 676.3,416.0 680.0,415.6 683.6,415.3" stroke="#d6142c" stroke-opacity="0.62"/><polyline points="568.8,483.9 572.4,483.7 576.1,483.4 579.7,483.1 583.4,482.8 587.0,482.4 590.6,481.9 594.3,481.3 597.9,480.6 601.5,479.7 605.2,478.7 608.8,477.3 612.5,475.6 616.1,473.5 619.7,470.9 623.4,467.7 627.0,463.9 630.6,459.6 634.3,454.7 637.9,449.3 641.6,443.8 645.2,438.2 648.8,432.8 652.5,427.9 656.1,423.5 659.7,419.7 663.4,416.5 667.0,413.9 670.7,411.8 674.3,410.1 677.9,408.8 681.6,407.8 685.2,407.1" stroke="#2b78b4" stroke-opacity="0.62"/><polyline points="583.1,459.0 586.7,458.2 590.4,457.2 594.0,456.2 597.6,455.2 601.3,454.0 604.9,452.8 608.5,451.6 612.2,450.3 615.8,449.0 619.5,447.8 623.1,446.6 626.7,445.6 630.4,444.6 634.0,443.7 637.6,442.9 641.3,442.2 644.9,441.6 648.6,441.0 652.2,440.5 655.8,440.1 659.5,439.7 663.1,439.4 666.7,439.2 670.4,439.0 674.0,438.8 677.7,438.6 681.3,438.5 684.9,438.4" stroke="#d6142c" stroke-opacity="0.62"/><polyline points="568.8,480.5 572.4,479.8 576.1,479.1 579.7,478.3 583.4,477.5 587.0,476.7 590.6,475.7 594.3,474.6 597.9,473.4 601.5,471.9 605.2,470.2 608.8,468.3 612.5,466.0 616.1,463.4 619.7,460.5 623.4,457.3 627.0,453.9 630.6,450.5 634.3,447.2 637.9,444.1 641.6,441.3 645.2,438.8 648.8,436.8 652.5,435.0 656.1,433.7 659.7,432.5 663.4,431.7 667.0,431.0 670.7,430.5 674.3,430.1 677.9,429.8 681.6,429.6 685.2,429.4" stroke="#2b78b4" stroke-opacity="0.62"/><polyline points="568.8,454.6 572.4,454.1 576.1,453.6 579.7,453.1 583.4,452.5 587.0,451.9 590.6,451.2 594.3,450.5 597.9,449.7 601.5,448.9 605.2,447.9 608.8,446.9 612.5,445.9 616.1,444.8 619.7,443.7 623.4,442.7 627.0,441.7 630.6,440.8 634.3,439.9 637.9,439.1 641.6,438.4 645.2,437.8 648.8,437.3 652.5,436.8 656.1,436.4 659.7,436.0 663.4,435.7" stroke="#d6142c" stroke-opacity="0.62"/><polyline points="568.8,472.2 572.4,471.5 576.1,470.8 579.7,470.0 583.4,469.2 587.0,468.3 590.6,467.4 594.3,466.3 597.9,465.1 601.5,463.8 605.2,462.3 608.8,460.6 612.5,458.6 616.1,456.3 619.7,453.8 623.4,450.9 627.0,447.8 630.6,444.5 634.3,441.0 637.9,437.6 641.6,434.2 645.2,431.1 648.8,428.2 652.5,425.6 656.1,423.4 659.7,421.4 663.4,419.8 667.0,418.4 670.7,417.3 674.3,416.4 677.9,415.6 681.6,415.1 685.2,414.6" stroke="#2b78b4" stroke-opacity="0.62"/><polyline points="588.6,459.0 592.2,456.9 595.9,454.6 599.5,452.1 603.1,449.5 606.8,446.7 610.4,443.8 614.0,441.0 617.7,438.3 621.3,435.7 625.0,433.4 628.6,431.2 632.2,429.3 635.9,427.7 639.5,426.3 643.1,425.1 646.8,424.1 650.4,423.2 654.1,422.5 657.7,422.0 661.3,421.5 665.0,421.2 668.6,420.9 672.2,420.7 675.9,420.5 679.5,420.3 683.2,420.2" stroke="#d6142c" stroke-opacity="0.62"/><polyline points="568.8,480.6 572.4,479.9 576.1,479.0 579.7,478.2 583.4,477.3 587.0,476.3 590.6,475.3 594.3,474.1 597.9,472.9 601.5,471.4 605.2,469.8 608.8,468.0 612.5,465.9 616.1,463.5 619.7,460.7 623.4,457.6 627.0,454.1 630.6,450.1 634.3,445.9 637.9,441.4 641.6,436.7 645.2,432.1 648.8,427.6 652.5,423.3 656.1,419.4 659.7,415.8 663.4,412.7 667.0,409.9 670.7,407.6 674.3,405.6 677.9,404.0 681.6,402.6 685.2,401.5" stroke="#2b78b4" stroke-opacity="0.62"/><polyline points="568.8,464.9 572.4,463.9 576.1,462.8 579.7,461.5 583.4,460.0 587.0,458.3 590.6,456.4 594.3,454.1 597.9,451.6 601.5,448.7 605.2,445.6 608.8,442.3 612.5,438.9 616.1,435.5 619.7,432.3 623.4,429.3 627.0,426.6 630.6,424.2 634.3,422.2 637.9,420.5 641.6,419.1 645.2,418.0 648.8,417.1 652.5,416.3 656.1,415.8 659.7,415.3 663.4,415.0 667.0,414.7 670.7,414.5 674.3,414.4 677.9,414.3 681.6,414.2 685.2,414.1" stroke="#d6142c" stroke-opacity="0.62"/><polyline points="568.8,477.9 572.4,477.4 576.1,476.8 579.7,476.2 583.4,475.6 587.0,474.8 590.6,473.9 594.3,472.9 597.9,471.5 601.5,469.9 605.2,467.7 608.8,465.0 612.5,461.6 616.1,457.3 619.7,452.2 623.4,446.3 627.0,440.0 630.6,433.5 634.3,427.5 637.9,422.0 641.6,417.4 645.2,413.7 648.8,410.8 652.5,408.7 656.1,407.1 659.7,406.0 663.4,405.2 667.0,404.6 670.7,404.2 674.3,403.9 677.9,403.7 681.6,403.6 685.2,403.5" stroke="#2b78b4" stroke-opacity="0.62"/><polyline points="568.8,467.3 572.4,466.4 576.1,465.4 579.7,464.4 583.4,463.2 587.0,462.0 590.6,460.6 594.3,459.1 597.9,457.4 601.5,455.6 605.2,453.6 608.8,451.5 612.5,449.2 616.1,446.8 619.7,444.3 623.4,441.8 627.0,439.4 630.6,437.2 634.3,435.1 637.9,433.2 641.6,431.4 645.2,429.8 648.8,428.4 652.5,427.1 656.1,426.1 659.7,425.2 663.4,424.4 667.0,423.7 670.7,423.2 674.3,422.7 677.9,422.4 681.6,422.1 685.2,421.8" stroke="#d6142c" stroke-opacity="0.62"/><polyline points="568.8,475.9 572.4,475.2 576.1,474.5 579.7,473.7 583.4,472.9 587.0,472.1 590.6,471.2 594.3,470.2 597.9,469.1 601.5,467.9 605.2,466.4 608.8,464.6 612.5,462.5 616.1,459.8 619.7,456.5 623.4,452.5 627.0,447.7 630.6,442.4 634.3,436.8 637.9,431.1 641.6,425.8 645.2,421.1 648.8,417.1 652.5,413.9 656.1,411.5 659.7,409.6 663.4,408.3 667.0,407.3 670.7,406.6 674.3,406.1 677.9,405.8 681.6,405.5 685.2,405.4" stroke="#2b78b4" stroke-opacity="0.62"/><polyline points="568.8,471.4 572.4,470.5 576.1,469.6 579.7,468.7 583.4,467.6 587.0,466.5 590.6,465.2 594.3,463.8 597.9,462.3 601.5,460.6 605.2,458.8 608.8,457.0 612.5,455.0 616.1,453.0 619.7,451.1 623.4,449.3 627.0,447.6 630.6,446.1 634.3,444.7 637.9,443.4 641.6,442.3 645.2,441.3 648.8,440.5 652.5,439.7 656.1,439.1 659.7,438.6 663.4,438.2 667.0,437.9 670.7,437.6 674.3,437.4 677.9,437.2 681.6,437.1 685.2,436.9" stroke="#d6142c" stroke-opacity="0.62"/><polyline points="568.8,473.3 572.4,472.4 576.1,471.6 579.7,470.6 583.4,469.5 587.0,468.2 590.6,466.8 594.3,465.1 597.9,463.2 601.5,461.0 605.2,458.4 608.8,455.4 612.5,452.0 616.1,448.1 619.7,443.8 623.4,439.1 627.0,434.0 630.6,428.8 634.3,423.5 637.9,418.4 641.6,413.5 645.2,408.9 648.8,404.7 652.5,401.0 656.1,397.7 659.7,394.9 663.4,392.6 667.0,390.6 670.7,389.0 674.3,387.7 677.9,386.6 681.6,385.7 685.2,385.0" stroke="#2b78b4" stroke-opacity="0.62"/><polyline points="568.8,471.3 572.4,470.9 576.1,470.3 579.7,469.7 583.4,469.0 587.0,468.1 590.6,467.1 594.3,466.0 597.9,464.5 601.5,462.9 605.2,460.9 608.8,458.7 612.5,456.1 616.1,453.3 619.7,450.3 623.4,447.3 627.0,444.3 630.6,441.5 634.3,438.9 637.9,436.6 641.6,434.6 645.2,432.9 648.8,431.5 652.5,430.4 656.1,429.5 659.7,428.8 663.4,428.2 667.0,427.8 670.7,427.5 674.3,427.2 677.9,427.0" stroke="#d6142c" stroke-opacity="0.62"/><polyline points="593.6,475.6 597.3,474.0 600.9,472.2 604.5,470.1 608.2,467.6 611.8,464.7 615.4,461.3 619.1,457.4 622.7,453.0 626.4,448.3 630.0,443.3 633.6,438.1 637.3,433.1 640.9,428.3 644.5,423.9 648.2,419.9 651.8,416.4 655.5,413.4 659.1,410.9 662.7,408.9 666.4,407.2 670.0,405.9 673.6,404.9 677.3,404.0 680.9,403.4 684.6,402.9" stroke="#2b78b4" stroke-opacity="0.62"/><polyline points="568.8,464.5 572.4,464.1 576.1,463.7 579.7,463.3 583.4,462.8 587.0,462.2 590.6,461.6 594.3,460.9 597.9,460.1 601.5,459.2 605.2,458.3 608.8,457.4 612.5,456.4 616.1,455.5 619.7,454.7 623.4,454.0 627.0,453.3 630.6,452.8 634.3,452.3 637.9,451.9 641.6,451.6 645.2,451.4 648.8,451.2 652.5,451.0 656.1,450.9 659.7,450.8 663.4,450.7 667.0,450.7 670.7,450.6 674.3,450.6 677.9,450.6 681.6,450.5 685.2,450.5" stroke="#d6142c" stroke-opacity="0.62"/><polyline points="568.8,481.4 572.4,480.9 576.1,480.3 579.7,479.7 583.4,479.0 587.0,478.2 590.6,477.2 594.3,476.2 597.9,474.9 601.5,473.4 605.2,471.6 608.8,469.5 612.5,467.0 616.1,464.0 619.7,460.5 623.4,456.6 627.0,452.2 630.6,447.5 634.3,442.6 637.9,437.7 641.6,432.9 645.2,428.5 648.8,424.5 652.5,420.9 656.1,417.8 659.7,415.3 663.4,413.1 667.0,411.4 670.7,410.0 674.3,408.9 677.9,408.1 681.6,407.4 685.2,406.9" stroke="#2b78b4" stroke-opacity="0.62"/><polyline points="568.8,458.2 572.4,457.3 576.1,456.2 579.7,455.2 583.4,454.1 587.0,452.9 590.6,451.7 594.3,450.5 597.9,449.3 601.5,448.2 605.2,447.2 608.8,446.3 612.5,445.5 616.1,444.7 619.7,444.1 623.4,443.5 627.0,442.9 630.6,442.5 634.3,442.0 637.9,441.7 641.6,441.3 645.2,441.1 648.8,440.8 652.5,440.6 656.1,440.4 659.7,440.3 663.4,440.2 667.0,440.1 670.7,440.0" stroke="#d6142c" stroke-opacity="0.62"/><polyline points="568.8,476.6 572.4,476.3 576.1,476.0 579.7,475.6 583.4,475.2 587.0,474.8 590.6,474.3 594.3,473.7 597.9,473.1 601.5,472.2 605.2,471.2 608.8,469.8 612.5,468.1 616.1,465.8 619.7,462.9 623.4,459.2 627.0,454.7 630.6,449.4 634.3,443.3 637.9,436.8 641.6,430.2 645.2,423.8 648.8,418.1 652.5,413.2 656.1,409.2 659.7,406.1 663.4,403.6 667.0,401.8 670.7,400.5 674.3,399.5 677.9,398.8 681.6,398.3 685.2,397.9" stroke="#2b78b4" stroke-opacity="0.62"/><polyline points="568.8,463.3 572.4,462.7 576.1,462.0 579.7,461.3 583.4,460.6 587.0,459.7 590.6,458.9 594.3,457.9 597.9,456.9 601.5,455.7 605.2,454.5 608.8,453.2 612.5,451.9 616.1,450.4 619.7,449.0 623.4,447.5 627.0,446.1 630.6,444.8 634.3,443.5 637.9,442.3 641.6,441.3 645.2,440.3 648.8,439.4 652.5,438.6 656.1,437.9 659.7,437.3 663.4,436.8 667.0,436.3 670.7,435.9 674.3,435.6 677.9,435.3 681.6,435.1 685.2,434.9" stroke="#d6142c" stroke-opacity="0.62"/><polyline points="568.8,481.0 572.4,480.7 576.1,480.5 579.7,480.2 583.4,479.9 587.0,479.6 590.6,479.3 594.3,478.9 597.9,478.4 601.5,477.9 605.2,477.2 608.8,476.3 612.5,475.2 616.1,473.7 619.7,471.7 623.4,469.1 627.0,465.7 630.6,461.4 634.3,456.0 637.9,449.6 641.6,442.2 645.2,434.3 648.8,426.3 652.5,418.6 656.1,411.7 659.7,405.8 663.4,401.1 667.0,397.3 670.7,394.4 674.3,392.3 677.9,390.7 681.6,389.6 685.2,388.8" stroke="#2b78b4" stroke-opacity="0.62"/><polyline points="568.8,458.2 572.4,457.6 576.1,456.9 579.7,456.2 583.4,455.4 587.0,454.6 590.6,453.7 594.3,452.6 597.9,451.5 601.5,450.2 605.2,448.8 608.8,447.2 612.5,445.5 616.1,443.7 619.7,442.0 623.4,440.4 627.0,438.9 630.6,437.7 634.3,436.6 637.9,435.7 641.6,435.0 645.2,434.5 648.8,434.1 652.5,433.8 656.1,433.6 659.7,433.4 663.4,433.3 667.0,433.2 670.7,433.1 674.3,433.0 677.9,433.0 681.6,433.0 685.2,433.0" stroke="#d6142c" stroke-opacity="0.62"/><polyline points="575.6,472.1 579.3,471.2 582.9,470.2 586.5,469.1 590.2,467.8 593.8,466.4 597.4,464.7 601.1,462.7 604.7,460.3 608.4,457.6 612.0,454.3 615.6,450.6 619.3,446.5 622.9,441.9 626.5,437.2 630.2,432.3 633.8,427.5 637.5,423.0 641.1,418.9 644.7,415.2 648.4,412.0 652.0,409.3 655.6,407.0 659.3,405.2 662.9,403.7 666.6,402.6 670.2,401.7 673.8,400.9 677.5,400.4 681.1,400.0 684.7,399.7" stroke="#2b78b4" stroke-opacity="0.62"/><polyline points="568.8,459.7 572.4,458.8 576.1,457.9 579.7,456.9 583.4,455.8 587.0,454.6 590.6,453.2 594.3,451.8 597.9,450.3 601.5,448.7 605.2,446.9 608.8,445.2 612.5,443.4 616.1,441.6 619.7,439.9 623.4,438.3 627.0,436.8 630.6,435.4 634.3,434.1 637.9,433.0 641.6,431.9 645.2,431.0 648.8,430.2 652.5,429.5 656.1,428.9 659.7,428.3 663.4,427.9 667.0,427.5 670.7,427.2 674.3,426.9 677.9,426.7 681.6,426.5 685.2,426.4" stroke="#d6142c" stroke-opacity="0.62"/><polyline points="568.8,472.2 572.4,471.5 576.1,470.9 579.7,470.3 583.4,469.6 587.0,468.9 590.6,468.1 594.3,467.2 597.9,466.3 601.5,465.2 605.2,464.0 608.8,462.6 612.5,460.9 616.1,458.9 619.7,456.6 623.4,453.8 627.0,450.6 630.6,447.0 634.3,443.0 637.9,438.8 641.6,434.4 645.2,430.1 648.8,426.1 652.5,422.5 656.1,419.2 659.7,416.5 663.4,414.2 667.0,412.3 670.7,410.8 674.3,409.6 677.9,408.7 681.6,408.0" stroke="#2b78b4" stroke-opacity="0.62"/><polyline points="589.2,453.7 592.9,452.6 596.5,451.5 600.1,450.3 603.8,449.0 607.4,447.6 611.0,446.1 614.7,444.7 618.3,443.2 622.0,441.8 625.6,440.5 629.2,439.3 632.9,438.2 636.5,437.1 640.1,436.2 643.8,435.4 647.4,434.6 651.1,433.9 654.7,433.4 658.3,432.8 662.0,432.4 665.6,432.0 669.2,431.7 672.9,431.4 676.5,431.2 680.2,431.0 683.8,430.9" stroke="#d6142c" stroke-opacity="0.62"/><polyline points="568.8,476.7 572.4,476.2 576.1,475.5 579.7,474.7 583.4,473.9 587.0,472.9 590.6,471.7 594.3,470.3 597.9,468.6 601.5,466.6 605.2,464.4 608.8,461.7 612.5,458.7 616.1,455.3 619.7,451.5 623.4,447.5 627.0,443.3 630.6,439.0 634.3,434.8 637.9,430.7 641.6,426.9 645.2,423.4 648.8,420.2 652.5,417.4 656.1,415.1 659.7,413.0 663.4,411.3 667.0,409.9 670.7,408.8 674.3,407.9 677.9,407.1 681.6,406.5 685.2,406.0" stroke="#2b78b4" stroke-opacity="0.62"/><polyline points="568.8,459.2 572.4,458.8 576.1,458.4 579.7,457.9 583.4,457.3 587.0,456.6 590.6,455.8 594.3,454.9 597.9,453.8 601.5,452.6 605.2,451.2 608.8,449.7 612.5,448.0 616.1,446.2 619.7,444.3 623.4,442.3 627.0,440.4 630.6,438.5 634.3,436.7 637.9,435.0 641.6,433.4 645.2,432.1 648.8,430.9 652.5,429.8 656.1,428.9 659.7,428.1 663.4,427.5 667.0,427.0 670.7,426.5 674.3,426.2 677.9,425.9 681.6,425.6 685.2,425.5" stroke="#d6142c" stroke-opacity="0.62"/><polyline points="568.8,483.9 572.4,483.4 576.1,482.8 579.7,482.1 583.4,481.4 587.0,480.6 590.6,479.6 594.3,478.6 597.9,477.3 601.5,475.8 605.2,474.1 608.8,472.0 612.5,469.5 616.1,466.5 619.7,463.0 623.4,458.9 627.0,454.2 630.6,448.8 634.3,443.0 637.9,436.8 641.6,430.5 645.2,424.2 648.8,418.1 652.5,412.5 656.1,407.4 659.7,402.9 663.4,399.0 667.0,395.7 670.7,393.0 674.3,390.8 677.9,389.1 681.6,387.7 685.2,386.5" stroke="#2b78b4" stroke-opacity="0.62"/><polyline points="568.8,455.8 572.4,455.2 576.1,454.6 579.7,453.9 583.4,453.2 587.0,452.4 590.6,451.5 594.3,450.6 597.9,449.6 601.5,448.5 605.2,447.3 608.8,446.0 612.5,444.6 616.1,443.2 619.7,441.8 623.4,440.4 627.0,439.0 630.6,437.8 634.3,436.7 637.9,435.7 641.6,434.8 645.2,434.0 648.8,433.3 652.5,432.7 656.1,432.2 659.7,431.8 663.4,431.5 667.0,431.2 670.7,431.0 674.3,430.8 677.9,430.6 681.6,430.5 685.2,430.4" stroke="#d6142c" stroke-opacity="0.62"/><polyline points="568.8,475.8 572.4,475.4 576.1,474.9 579.7,474.5 583.4,474.0 587.0,473.5 590.6,472.9 594.3,472.3 597.9,471.6 601.5,470.7 605.2,469.7 608.8,468.5 612.5,467.1 616.1,465.3 619.7,463.2 623.4,460.6 627.0,457.7 630.6,454.4 634.3,450.9 637.9,447.3 641.6,444.0 645.2,440.9 648.8,438.2 652.5,435.9 656.1,434.1 659.7,432.7 663.4,431.6 667.0,430.7 670.7,430.1 674.3,429.6 677.9,429.3 681.6,429.1 685.2,428.9" stroke="#2b78b4" stroke-opacity="0.62"/><polyline points="568.8,454.6 572.4,453.7 576.1,452.7 579.7,451.7 583.4,450.6 587.0,449.3 590.6,447.9 594.3,446.5 597.9,444.9 601.5,443.3 605.2,441.7 608.8,440.0 612.5,438.5 616.1,437.0 619.7,435.6 623.4,434.3 627.0,433.1 630.6,432.0 634.3,431.1 637.9,430.2 641.6,429.5 645.2,428.9 648.8,428.3 652.5,427.9 656.1,427.5 659.7,427.2 663.4,426.9 667.0,426.7 670.7,426.5 674.3,426.3 677.9,426.2 681.6,426.1 685.2,426.0" stroke="#d6142c" stroke-opacity="0.62"/><polyline points="568.8,473.2 572.4,472.8 576.1,472.4 579.7,472.0 583.4,471.5 587.0,471.0 590.6,470.5 594.3,470.0 597.9,469.4 601.5,468.7 605.2,467.9 608.8,467.0 612.5,465.9 616.1,464.6 619.7,463.0 623.4,461.1 627.0,458.9 630.6,456.2 634.3,453.2 637.9,449.8 641.6,446.3 645.2,442.7 648.8,439.3 652.5,436.1 656.1,433.3 659.7,430.9 663.4,428.9 667.0,427.3 670.7,426.0 674.3,425.1 677.9,424.3 681.6,423.8 685.2,423.3" stroke="#2b78b4" stroke-opacity="0.62"/><polyline points="568.8,465.3 572.4,464.4 576.1,463.3 579.7,462.1 583.4,460.8 587.0,459.3 590.6,457.6 594.3,455.8 597.9,453.8 601.5,451.8 605.2,449.7 608.8,447.6 612.5,445.6 616.1,443.7 619.7,441.8 623.4,440.2 627.0,438.6 630.6,437.3 634.3,436.1 637.9,435.0 641.6,434.1 645.2,433.4 648.8,432.7 652.5,432.2 656.1,431.7 659.7,431.4 663.4,431.1 667.0,430.8 670.7,430.6 674.3,430.5 677.9,430.4 681.6,430.2 685.2,430.2" stroke="#d6142c" stroke-opacity="0.62"/><polyline points="568.8,481.7 572.4,481.3 576.1,480.8 579.7,480.3 583.4,479.8 587.0,479.3 590.6,478.7 594.3,478.0 597.9,477.2 601.5,476.3 605.2,475.1 608.8,473.6 612.5,471.7 616.1,469.3 619.7,466.1 623.4,462.2 627.0,457.2 630.6,451.2 634.3,444.2 637.9,436.3 641.6,427.9 645.2,419.5 648.8,411.5 652.5,404.4 656.1,398.3 659.7,393.2 663.4,389.3 667.0,386.2 670.7,383.9 674.3,382.2 677.9,380.9 681.6,380.0 685.2,379.4" stroke="#2b78b4" stroke-opacity="0.62"/><polyline points="568.8,454.4 572.4,454.0 576.1,453.6 579.7,453.1 583.4,452.5 587.0,451.8 590.6,451.0 594.3,450.1 597.9,449.2 601.5,448.1 605.2,447.1 608.8,446.2 612.5,445.3 616.1,444.5 619.7,443.9 623.4,443.3 627.0,442.9 630.6,442.6 634.3,442.3 637.9,442.1 641.6,442.0 645.2,441.9 648.8,441.8 652.5,441.7 656.1,441.7 659.7,441.7 663.4,441.6 667.0,441.6 670.7,441.6 674.3,441.6 677.9,441.6 681.6,441.6 685.2,441.6" stroke="#d6142c" stroke-opacity="0.62"/><polyline points="580.9,471.7 584.5,470.7 588.1,469.6 591.8,468.2 595.4,466.6 599.1,464.8 602.7,462.6 606.3,460.0 610.0,456.9 613.6,453.5 617.2,449.5 620.9,445.2 624.5,440.6 628.2,435.9 631.8,431.2 635.4,426.7 639.1,422.5 642.7,418.7 646.3,415.4 650.0,412.5 653.6,410.0 657.3,408.0 660.9,406.4 664.5,405.1 668.2,404.0 671.8,403.2 675.4,402.5 679.1,402.0 682.7,401.6" stroke="#2b78b4" stroke-opacity="0.62"/><polyline points="568.8,481.8 572.4,481.2 576.1,480.6 579.7,479.9 583.4,479.1 587.0,478.2 590.6,477.2 594.3,475.9 597.9,474.4 601.5,472.6 605.2,470.3 608.8,467.5 612.5,464.0 616.1,459.8 619.7,454.6 623.4,448.5 627.0,441.7 630.6,434.2 634.3,426.5 637.9,418.8 641.6,411.7 645.2,405.2 648.8,399.6 652.5,394.9 656.1,391.2 659.7,388.2 663.4,385.9 667.0,384.1 670.7,382.8 674.3,381.8 677.9,381.1 681.6,380.6 685.2,380.2" stroke="#2b78b4" stroke-opacity="0.62"/><polyline points="568.8,475.6 572.4,474.9 576.1,474.2 579.7,473.4 583.4,472.5 587.0,471.6 590.6,470.5 594.3,469.3 597.9,467.9 601.5,466.2 605.2,464.3 608.8,461.9 612.5,459.2 616.1,456.0 619.7,452.4 623.4,448.6 627.0,444.6 630.6,440.6 634.3,436.9 637.9,433.5 641.6,430.5 645.2,427.9 648.8,425.9 652.5,424.2 656.1,422.9 659.7,421.9 663.4,421.1 667.0,420.5 670.7,420.1 674.3,419.8 677.9,419.5" stroke="#2b78b4" stroke-opacity="0.62"/></g><path d="M563.1 369.6 V489.6 H692.4" stroke="#3a3a3a" stroke-width="1.4" fill="none"/><line x1="557.7" x2="563.1" y1="463.9" y2="463.9" stroke="#3a3a3a" stroke-width="1.2"/><text x="555.9" y="467.9" class="tk" text-anchor="end">50</text><line x1="557.7" x2="563.1" y1="430.6" y2="430.6" stroke="#3a3a3a" stroke-width="1.2"/><text x="555.9" y="434.6" class="tk" text-anchor="end">100</text><line x1="557.7" x2="563.1" y1="397.3" y2="397.3" stroke="#3a3a3a" stroke-width="1.2"/><text x="555.9" y="401.3" class="tk" text-anchor="end">150</text><line x1="588.2" x2="588.2" y1="489.6" y2="495.0" stroke="#3a3a3a" stroke-width="1.2"/><text x="588.2" y="504.40000000000003" class="tk" text-anchor="middle">−10</text><line x1="636.7" x2="636.7" y1="489.6" y2="495.0" stroke="#3a3a3a" stroke-width="1.2"/><text x="636.7" y="504.40000000000003" class="tk" text-anchor="middle">0</text><line x1="685.2" x2="685.2" y1="489.6" y2="495.0" stroke="#3a3a3a" stroke-width="1.2"/><text x="685.2" y="504.40000000000003" class="tk" text-anchor="middle">10</text><text x="628.9" y="361.9" class="t" >PC2</text><text x="627.5" y="521.4" class="t" textLength="30.4" lengthAdjust="spacingAndGlyphs">DAPE</text><text transform="translate(532,431) rotate(-90)" class="t" textLength="68" lengthAdjust="spacingAndGlyphs">Height (cm)</text>
</svg>
<div id="cap"><div><b>Figure 1.</b> Functional principal component analysis (FPCA) is a powerful method to identify genes</div><div>in time-series genome-wide association study (GWAS). (A) Diagram summarizing the loci</div><div>identified by GWAS with different experimental conditions. DAP, days after planting; DAPE, days</div><div>after panicle emergence. (B) Distribution of principal components and growth curves of selected</div><div class="l">genotypes (Adapted from Fig. 6, Miao et al. 2020).</div></div>
</body></html>
